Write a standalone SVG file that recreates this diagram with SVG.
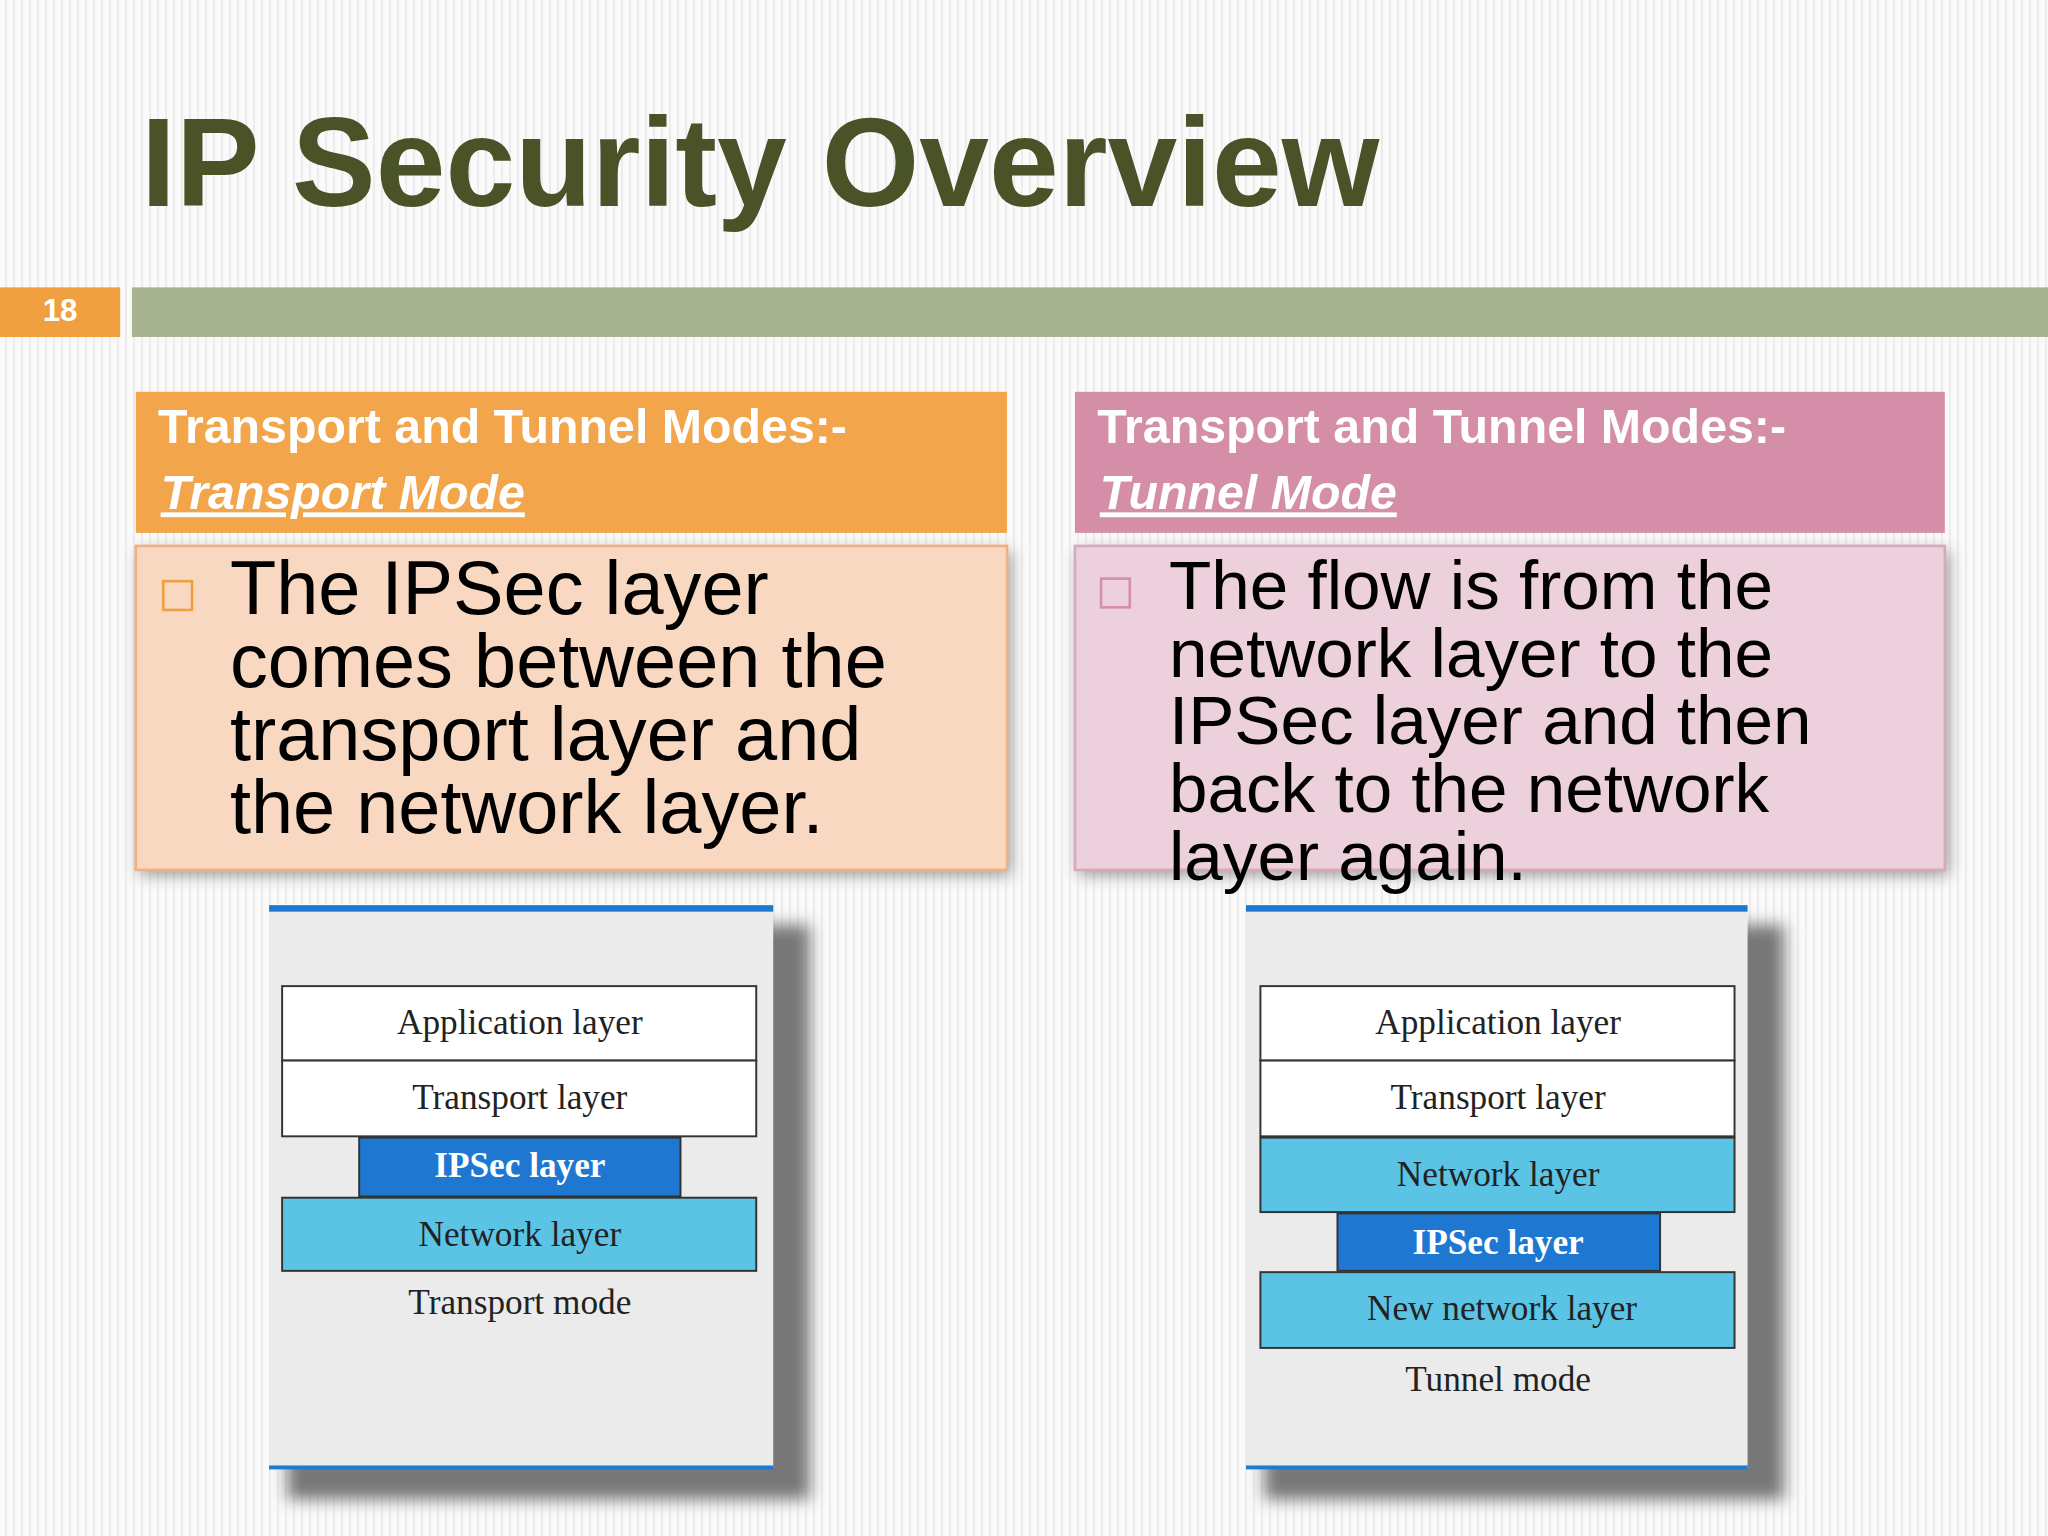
<svg xmlns="http://www.w3.org/2000/svg" width="2048" height="1536" viewBox="0 0 2048 1536">
<defs>
<pattern id="st" width="8" height="8" patternUnits="userSpaceOnUse"><rect width="8" height="8" fill="#fafafa"/><rect x="5" width="2" height="8" fill="#ececec"/></pattern>
<filter id="sh" x="-10%" y="-10%" width="130%" height="130%"><feGaussianBlur stdDeviation="6"/></filter>
<style>
.h{font-family:"Liberation Sans",Arial,sans-serif;font-weight:bold;fill:#fff;font-size:37px}
.b{font-family:"Liberation Sans",Arial,sans-serif;fill:#000}
.l{font-family:"Liberation Serif","Times New Roman",serif;font-size:27px;fill:#222;text-anchor:middle}
.lw{font-family:"Liberation Serif","Times New Roman",serif;font-size:27px;fill:#fff;font-weight:bold;text-anchor:middle}
.w{fill:#fff;stroke:#333;stroke-width:1.5}
.n{fill:#5bc4e4;stroke:#333;stroke-width:1.5}
.i{fill:#1e78d2;stroke:#333;stroke-width:1.5}
</style>
</defs>
<rect width="2048" height="1536" fill="url(#st)"/>
<g transform="scale(1.30612)">
<g id="title"><text x="108" y="158" font-family="Liberation Sans,Arial,sans-serif" font-weight="bold" font-size="96" fill="#4a5228">IP Security Overview</text></g>
<g id="bar"><rect x="0" y="220" width="92" height="38" fill="#f0a040"/><text x="46" y="246" text-anchor="middle" class="h" style="font-size:24px">18</text><rect x="101" y="220" width="1467" height="38" fill="#a8b490"/></g>
<g id="lefthead"><rect x="104" y="300" width="667" height="108" fill="#f2a54a"/><text x="121" y="339" class="h">Transport and Tunnel Modes:-</text><text x="123" y="390" class="h" font-style="italic" text-decoration="underline">Transport Mode</text></g>
<g id="leftbody"><rect x="107" y="422" width="667" height="248" fill="#999" filter="url(#sh)"/><rect x="104" y="418" width="667" height="248" fill="#f8d8c0" stroke="#f0b080" stroke-width="2"/><rect x="125" y="445" width="22" height="22" fill="none" stroke="#f0a040" stroke-width="2"/>
<text class="b" font-size="58"><tspan x="176" y="470">The IPSec layer</tspan><tspan x="176" y="526">comes between the</tspan><tspan x="176" y="582">transport layer and</tspan><tspan x="176" y="638">the network layer.</tspan></text></g>
<g id="righthead"><rect x="823" y="300" width="666" height="108" fill="#d48ea8"/><text x="840" y="339" class="h">Transport and Tunnel Modes:-</text><text x="842" y="390" class="h" font-style="italic" text-decoration="underline">Tunnel Mode</text></g>
<g id="rightbody"><rect x="826" y="422" width="666" height="248" fill="#999" filter="url(#sh)"/><rect x="823" y="418" width="666" height="248" fill="#ecd0dc" stroke="#d8a8bc" stroke-width="2"/><rect x="843" y="443" width="22" height="22" fill="none" stroke="#d48ea8" stroke-width="2"/>
<text class="b" font-size="53"><tspan x="895" y="466">The flow is from the</tspan><tspan x="895" y="518">network layer to the</tspan><tspan x="895" y="570">IPSec layer and then</tspan><tspan x="895" y="622">back to the network</tspan><tspan x="895" y="674">layer again.</tspan></text></g>
<g id="leftdiag"><rect x="220" y="708" width="400" height="440" fill="#777" filter="url(#sh)"/><rect x="206" y="694" width="386" height="430" fill="#ebebeb"/><rect x="206" y="693" width="386" height="5" fill="#1e7ad0"/><rect x="206" y="1122" width="386" height="3" fill="#1e7ad0"/>
<rect x="216" y="755" width="363" height="57" class="w"/><text x="398" y="792" class="l">Application layer</text>
<rect x="216" y="812" width="363" height="58" class="w"/><text x="398" y="849" class="l">Transport layer</text>
<rect x="275" y="871" width="246" height="45" class="i"/><text x="398" y="901" class="lw">IPSec layer</text>
<rect x="216" y="917" width="363" height="56" class="n"/><text x="398" y="954" class="l">Network layer</text>
<text x="398" y="1006" class="l">Transport mode</text></g>
<g id="rightdiag"><rect x="968" y="708" width="398" height="440" fill="#777" filter="url(#sh)"/><rect x="954" y="694" width="384" height="430" fill="#ebebeb"/><rect x="954" y="693" width="384" height="5" fill="#1e7ad0"/><rect x="954" y="1122" width="384" height="3" fill="#1e7ad0"/>
<rect x="965" y="755" width="363" height="57" class="w"/><text x="1147" y="792" class="l">Application layer</text>
<rect x="965" y="812" width="363" height="58" class="w"/><text x="1147" y="849" class="l">Transport layer</text>
<rect x="965" y="871" width="363" height="57" class="n"/><text x="1147" y="908" class="l">Network layer</text>
<rect x="1024" y="929" width="247" height="44" class="i"/><text x="1147" y="960" class="lw">IPSec layer</text>
<rect x="965" y="974" width="363" height="58" class="n"/><text x="1150" y="1011" class="l">New network layer</text>
<text x="1147" y="1065" class="l">Tunnel mode</text></g>
<g id="connectors"/>
</g>
</svg>
